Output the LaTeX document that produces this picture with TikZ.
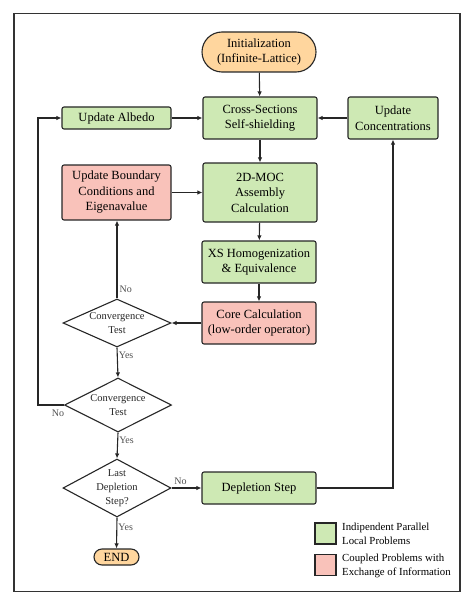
\documentclass[tikz,border=0pt]{standalone}
\usepackage{fontspec}
\setmainfont{Liberation Serif}
\usetikzlibrary{shapes.geometric,arrows.meta}
\definecolor{gfill}{RGB}{206,233,180}
\definecolor{pfill}{RGB}{249,194,186}
\definecolor{ofill}{RGB}{255,214,158}
\definecolor{lbl}{RGB}{80,80,80}
\tikzset{
  box/.style={draw=black!85, line width=1.1pt, rounded corners=2pt, align=center, inner sep=0pt, font=\fontsize{12.5}{15.5}\selectfont},
  gbox/.style={box, fill=gfill},
  pbox/.style={box, fill=pfill},
  dia/.style={draw=black!85, line width=1.1pt, diamond, fill=white, inner sep=0pt},
  dtext/.style={align=center, inner sep=0pt, font=\fontsize{10.5}{14}\selectfont, text=black!85},
  arr/.style={draw=black!85, line width=1.1pt, -{Latex[length=5pt,width=4.5pt]}},
  lab/.style={text=lbl, font=\fontsize{10}{12}\selectfont, inner sep=1pt},
  leg/.style={font=\fontsize{10.8}{14}\selectfont, align=left, inner sep=0pt, anchor=west}
}
\begin{document}
\begin{tikzpicture}[x=1pt,y=-1pt]
\useasboundingbox (0,0) rectangle (474,607);
\draw[line width=1.3pt, black!80] (14,13.5) rectangle (460,591.5);
\node[box, fill=ofill, rounded corners=20pt, minimum width=114pt, minimum height=40pt] (init) at (259,52) {Initialization\\(Infinite-Lattice)};
\node[gbox, minimum width=114pt, minimum height=42pt] (xs) at (260,118) {Cross-Sections\\Self-shielding};
\node[gbox, minimum width=109pt, minimum height=22pt] (alb) at (116.5,118) {Update Albedo};
\node[gbox, minimum width=90pt, minimum height=42pt] (conc) at (393,118) {Update\\Concentrations};
\node[pbox, minimum width=109pt, minimum height=55pt] (ubc) at (116.5,192.5) {Update Boundary\\Conditions and\\Eigenavalue};
\node[gbox, minimum width=114pt, minimum height=59pt] (moc) at (260,192.5) {2D-MOC\\Assembly\\Calculation};
\node[gbox, minimum width=114pt, minimum height=42pt] (hom) at (259,262) {XS Homogenization\\\& Equivalence};
\node[pbox, minimum width=114pt, minimum height=42pt] (core) at (259,323) {Core Calculation\\(low-order operator)};
\node[dia, minimum width=108pt, minimum height=48pt, label={[dtext]center:Convergence\\Test}] (c1) at (117,323) {};
\node[dia, minimum width=107pt, minimum height=54pt, label={[dtext]center:Convergence\\Test}] (c2) at (118,405) {};
\node[dia, minimum width=108pt, minimum height=58pt, label={[dtext]center:Last\\Depletion\\Step?}] (last) at (117,488) {};
\node[gbox, minimum width=114pt, minimum height=32pt] (dep) at (259,488) {Depletion Step};
\node[box, fill=ofill, rounded corners=8pt, minimum width=45pt, minimum height=16pt] (end) at (116.5,557) {END};
\coordinate (lft) at (38,405);
\coordinate (lftt) at (38,118);
\coordinate (rgt) at (393,488);
% legend
\node[draw=black!85, line width=1.1pt, fill=gfill, minimum width=21pt, minimum height=21pt, inner sep=0pt] (lg) at (325.5,533.5) {};
\node[draw=black!85, line width=1.1pt, fill=pfill, minimum width=21pt, minimum height=21pt, inner sep=0pt] (lp) at (325.5,565) {};
\node[leg] (lgt) at (342,533.5) {Indipendent Parallel\\Local Problems};
\node[leg] (lpt) at (342,566) {Coupled Problems with\\Exchange of Information};
% connectors
\draw[arr] (init) -- (xs);
\draw[arr] (alb) -- (xs);
\draw[arr] (conc) -- (xs);
\draw[arr] (xs) -- (moc);
\draw[arr] (ubc.east |- moc) -- (moc);
\draw[arr] (moc) -- (hom);
\draw[arr] (hom) -- (core);
\draw[arr] (core) -- (c1);
\draw[arr] (c1.north) -- node[lab, pos=0.12, right, xshift=1pt] {No} (ubc.south -| c1.north);
\draw[arr] (c1.south) -- node[lab, pos=0.25, right] {Yes} (c2.north);
\draw[arr] (c2.west) -- (lft) -- (lftt) -- (alb.west);
\node[lab] at (58,413) {No};
\draw[arr] (c2.south) -- node[lab, pos=0.3, right] {Yes} (last.north);
\draw[arr] (last.east) -- node[lab, pos=0.3, above, yshift=2pt] {No} (dep.west);
\draw[arr] (last.south) -- node[lab, pos=0.3, right] {Yes} (end.north);
\draw[arr] (dep.east) -- (rgt) -- (conc.south);
\end{tikzpicture}
\end{document}
